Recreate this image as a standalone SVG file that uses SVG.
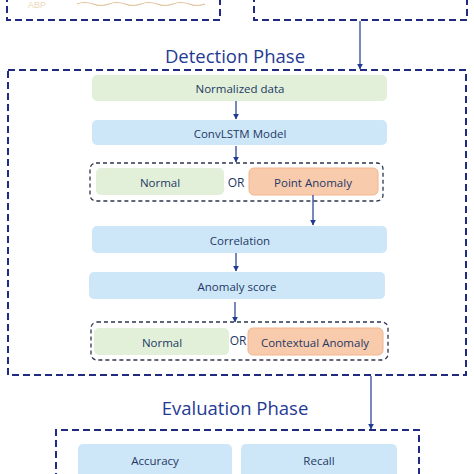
<svg xmlns="http://www.w3.org/2000/svg" width="474" height="474" viewBox="0 0 474 474">
<defs>
<marker id="ah" viewBox="0 0 10 10" refX="9" refY="5" markerWidth="6" markerHeight="6" orient="auto" markerUnits="userSpaceOnUse"><path d="M0,0 L10,5 L0,10 z" fill="#1f3a93"/></marker>
<style>
.big{fill:none;stroke:#1f2a80;stroke-width:2;stroke-dasharray:7,4}
.sm{fill:none;stroke:#2f3450;stroke-width:1.3;stroke-dasharray:4,3}
.g{fill:#e2f0d9}
.b{fill:#cde7f8}
.p{fill:#f8cbad;stroke:#f0b48c;stroke-width:1}
.t{font-family:"Open Sans","Liberation Sans",sans-serif;font-size:11.5px;fill:#1f3864;text-anchor:middle;dominant-baseline:central}
.h{font-family:"Open Sans","Liberation Sans",sans-serif;font-size:18.5px;fill:#1f3a93;text-anchor:middle;dominant-baseline:central}
.c{stroke:#1f3a93;stroke-width:1.2;fill:none;marker-end:url(#ah)}
</style>
</defs>
<rect width="474" height="474" fill="#ffffff"/>
<g id="top-left">
<path class="big" d="M7,-5 V20 H220 V-5"/>
<text x="37" y="8" style="font-family:'Liberation Sans',sans-serif;font-size:9px;fill:#eed8b8;text-anchor:middle">ABP</text>
<path d="M77,4 q8,-3 16,0 t16,0 t16,0 t16,0 t16,0 t16,0 t16,0 t16,0" fill="none" stroke="#e0c49e" stroke-width="1.2"/>
</g>
<g id="top-right">
<path class="big" d="M254,-5 V20 H467 V-5"/>
</g>
<text class="h" x="235" y="55">Detection Phase</text>
<g id="detection">
<rect class="big" x="8" y="70" width="458" height="305"/>
</g>
<g id="normalized"><rect class="g" x="92" y="75" width="295" height="26" rx="5"/><text class="t" x="240" y="88">Normalized data</text></g>
<g id="convlstm"><rect class="b" x="92" y="120" width="295" height="25" rx="5"/><text class="t" x="240" y="133">ConvLSTM  Model</text></g>
<g id="choice1"><rect class="sm" x="90" y="163" width="293" height="38" rx="6"/>
<text class="t" x="236" y="182" style="font-size:12px">OR</text></g>
<g id="normal1"><rect class="g" x="96" y="168" width="128" height="27" rx="5"/><text class="t" x="160" y="182">Normal</text></g>
<g id="point"><rect class="p" x="249" y="168" width="129" height="27" rx="5"/><text class="t" x="313" y="182">Point Anomaly</text></g>
<g id="correlation"><rect class="b" x="92" y="226" width="295" height="27" rx="5"/><text class="t" x="240" y="240">Correlation</text></g>
<g id="score"><rect class="b" x="89" y="272" width="296" height="27" rx="5"/><text class="t" x="237" y="286">Anomaly score</text></g>
<g id="choice2"><rect class="sm" x="91" y="322" width="297" height="38" rx="6"/>
<text class="t" x="238" y="340" style="font-size:12px">OR</text></g>
<g id="normal2"><rect class="g" x="94" y="328" width="135" height="27" rx="5"/><text class="t" x="162" y="342">Normal</text></g>
<g id="contextual"><rect class="p" x="248" y="328" width="135" height="27" rx="5"/><text class="t" x="315" y="342">Contextual Anomaly</text></g>
<text class="h" x="235" y="407">Evaluation Phase</text>
<g id="evaluation"><path class="big" d="M56,480 V430 H419 V480"/></g>
<g id="accuracy"><rect class="b" x="78" y="444" width="154" height="40" rx="5"/><text class="t" x="155" y="460">Accuracy</text></g>
<g id="recall"><rect class="b" x="241" y="444" width="156" height="40" rx="5"/><text class="t" x="319" y="460">Recall</text></g>
<g id="connectors">
<line class="c" x1="360" y1="21" x2="360" y2="69"/>
<line class="c" x1="236" y1="101" x2="236" y2="119"/>
<line class="c" x1="236" y1="146" x2="236" y2="162"/>
<line class="c" x1="313" y1="195" x2="313" y2="225"/>
<line class="c" x1="236" y1="253" x2="236" y2="271"/>
<line class="c" x1="235" y1="302" x2="235" y2="322"/>
<line class="c" x1="371" y1="376" x2="371" y2="429"/>
</g>
</svg>
